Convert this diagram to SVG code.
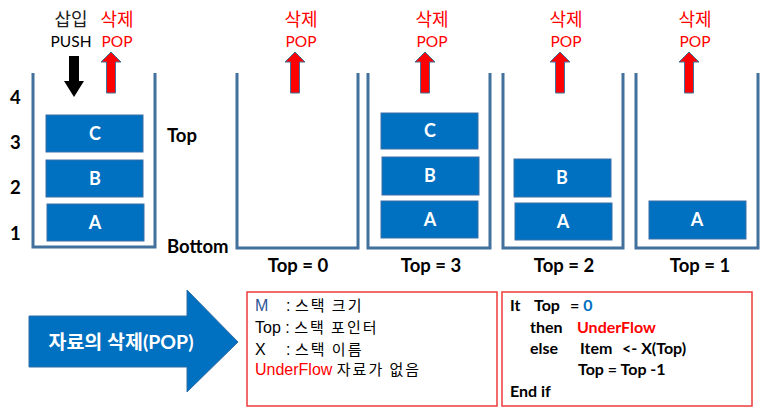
<svg xmlns="http://www.w3.org/2000/svg" width="775" height="418" viewBox="0 0 775 418">
<defs>
<style>
.wall{fill:none;stroke:#41719C;stroke-width:3}
.blk{fill:#0070C0;stroke:#3A6FA8;stroke-width:1}
.bt{fill:#fff;font-family:Lato,"Liberation Sans",sans-serif;font-weight:bold;font-size:18px;text-anchor:middle}
.lbl{fill:#000;font-family:Lato,"Liberation Sans",sans-serif;font-weight:bold;font-size:18.5px}
.kr{font-family:"Noto Sans CJK KR",sans-serif;font-size:18px;text-anchor:middle}
.pop{fill:#FF0000;font-family:Lato,"Liberation Sans",sans-serif;font-size:15.5px;text-anchor:middle}
.rarrow{fill:#FF0000;stroke:#41719C;stroke-width:1}
.box{fill:#fff;stroke:#EE3B3B;stroke-width:1.5}
.t1{font-family:"Liberation Sans","Noto Sans CJK KR",sans-serif;font-size:16px;fill:#000}
.k1{font-family:"Noto Sans CJK KR",sans-serif;font-size:15px;letter-spacing:2px}
.t2{font-family:Lato,"Liberation Sans",sans-serif;font-weight:bold;font-size:16px;fill:#000}
</style>
<path id="up" d="M-4.5,41 V10 H-10 L0,0 L10,10 H4.5 V41 Z"/>
</defs>

<g id="stack1">
<path class="wall" d="M33,73 V247 H155 V73"/>
<rect class="blk" x="46" y="115" width="97" height="37"/>
<text class="bt" x="95" y="140">C</text>
<rect class="blk" x="46" y="160" width="97" height="37"/>
<text class="bt" x="95" y="185">B</text>
<rect class="blk" x="47" y="204" width="97" height="37"/>
<text class="bt" x="95" y="229">A</text>
<text class="kr" x="71" y="26" fill="#222">삽입</text>
<text class="pop" x="71" y="47" style="fill:#000">PUSH</text>
<path d="M69,56 H79 V81 H84 L74,97 L64,81 H69 Z" fill="#000"/>
<text class="kr" x="117" y="26" fill="#FF0000">삭제</text>
<text class="pop" x="117" y="47">POP</text>
<use href="#up" class="rarrow" transform="translate(111,52)"/>
</g>

<g id="levels">
<text class="lbl" x="10" y="104">4</text>
<text class="lbl" x="10" y="149">3</text>
<text class="lbl" x="10" y="194">2</text>
<text class="lbl" x="10" y="240">1</text>
<text class="lbl" x="167" y="142">Top</text>
<text class="lbl" x="167" y="253">Bottom</text>
</g>

<g id="stack2">
<path class="wall" d="M237,73 V248 H358 V73"/>
<text class="kr" x="301" y="26" fill="#FF0000">삭제</text>
<text class="pop" x="301" y="47">POP</text>
<use href="#up" class="rarrow" transform="translate(295,52)"/>
<text class="lbl" x="298" y="272" text-anchor="middle">Top = 0</text>
</g>

<g id="stack3">
<path class="wall" d="M368,73 V248 H490 V73"/>
<rect class="blk" x="381" y="113" width="97" height="36"/>
<text class="bt" x="430" y="137">C</text>
<rect class="blk" x="382" y="157" width="97" height="38"/>
<text class="bt" x="430" y="182">B</text>
<rect class="blk" x="381" y="201" width="97" height="37"/>
<text class="bt" x="430" y="226">A</text>
<text class="kr" x="432" y="26" fill="#FF0000">삭제</text>
<text class="pop" x="432" y="47">POP</text>
<use href="#up" class="rarrow" transform="translate(425,52)"/>
<text class="lbl" x="431" y="272" text-anchor="middle">Top = 3</text>
</g>

<g id="stack4">
<path class="wall" d="M503,73 V248 H623 V73"/>
<rect class="blk" x="514" y="159" width="97" height="38"/>
<text class="bt" x="562" y="184">B</text>
<rect class="blk" x="515" y="203" width="97" height="37"/>
<text class="bt" x="563" y="228">A</text>
<text class="kr" x="566" y="26" fill="#FF0000">삭제</text>
<text class="pop" x="566" y="47">POP</text>
<use href="#up" class="rarrow" transform="translate(560,52)"/>
<text class="lbl" x="564" y="272" text-anchor="middle">Top = 2</text>
</g>

<g id="stack5">
<path class="wall" d="M636,73 V248 H758 V73"/>
<rect class="blk" x="649" y="201" width="97" height="38"/>
<text class="bt" x="697" y="226">A</text>
<text class="kr" x="695" y="26" fill="#FF0000">삭제</text>
<text class="pop" x="695" y="47">POP</text>
<use href="#up" class="rarrow" transform="translate(689,52)"/>
<text class="lbl" x="700" y="272" text-anchor="middle">Top = 1</text>
</g>

<g id="bigArrow">
<path d="M29,316 H187 V290 L238,342 L187,392 V367 H29 Z" fill="#0070C0" stroke="#2E6DA4" stroke-width="1"/>
<text x="121" y="349" fill="#fff" font-family="Lato,'Noto Sans CJK KR',sans-serif" font-weight="bold" font-size="19.5" text-anchor="middle">자료의 삭제(POP)</text>
</g>

<g id="legend">
<rect class="box" x="247" y="292" width="250" height="114"/>
<text class="t1" x="255" y="311" style="fill:#2F5597">M</text>
<text class="t1" x="286" y="311">: <tspan class="k1">스택 크기</tspan></text>
<text class="t1" x="255" y="333">Top : <tspan class="k1">스택 포인터</tspan></text>
<text class="t1" x="255" y="355">X</text>
<text class="t1" x="286" y="355">:  <tspan class="k1">스택 이름</tspan></text>
<text class="t1" x="255" y="375"><tspan fill="#FF0000">UnderFlow</tspan> <tspan class="k1">자료가 없음</tspan></text>
</g>

<g id="algorithm">
<rect class="box" x="502" y="292" width="250" height="114"/>
<text class="t2" x="510" y="311">It</text>
<text class="t2" x="534" y="311">Top</text>
<text class="t2" x="570" y="311">= <tspan fill="#0070C0">0</tspan></text>
<text class="t2" x="530" y="333">then</text>
<text class="t2" x="577" y="333" style="fill:#FF0000">UnderFlow</text>
<text class="t2" x="530" y="354">else</text>
<text class="t2" x="580" y="354">Item</text>
<text class="t2" x="622" y="354">&lt;- X(Top)</text>
<text class="t2" x="578" y="375">Top = Top -1</text>
<text class="t2" x="510" y="397">End if</text>
</g>
</svg>
